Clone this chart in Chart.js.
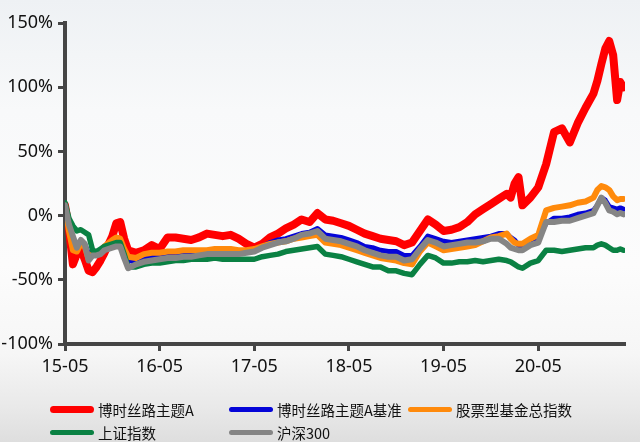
<!DOCTYPE html>
<html>
<head>
<meta charset="utf-8">
<script src="https://cdn.jsdelivr.net/npm/chart.js@4/dist/chart.umd.min.js"></script>
<style>
  html, body { margin: 0; padding: 0; }
  #wrap {
    position: relative;
    width: 640px;
    height: 442px;
    overflow: hidden;
    background: linear-gradient(180deg, #eef1f4 0%, #f8f9fa 25%, #fcfcfc 60%, #f6f6f6 80%, #e9e9e9 92%, #dedede 100%);
    font-family: "Noto Sans CJK SC", "Noto Sans", sans-serif;
  }
  #chart { position: absolute; left: 0; top: 0; }
  .leg { position: absolute; height: 20px; display: flex; align-items: center; font-size: 14.5px; color: #111; white-space: nowrap; }
  .leg i { display: inline-block; width: 44px; border-radius: 4px; margin-right: 4px; }
</style>
</head>
<body>
<div id="wrap">
  <canvas id="chart" width="640" height="442"></canvas>
  <div id="legend"></div>
</div>
<script>
// ── Data ────────────────────────────────────────────────
// months since 2015-05
const months = [0, 0.5, 1, 1.5, 2, 2.5, 3, 3.5, 4, 4.5, 5, 6, 6.5, 7, 7.5, 8, 9, 10, 11, 12,
  13, 14, 15, 16, 17, 18, 19, 20, 21, 22, 23, 24, 25, 26, 27, 28, 29, 30, 31, 32,
  33, 34, 35, 36, 37, 38, 39, 40, 41, 42, 43, 44, 45, 46, 47, 48, 49, 50, 51, 52,
  53, 54, 55, 56, 56.5, 57, 57.5, 58, 59, 60, 61, 62, 63, 64, 65, 66, 67, 67.5, 68, 68.5,
  69, 69.5, 70, 70.4, 70.8];

const tickLabels = ["15-05", "16-05", "17-05", "18-05", "19-05", "20-05"];

const fundA = [8, -10, -38, -30, -26, -34, -43, -44, -40, -35, -29, -16, -6, -5, -18, -27, -29, -27, -23, -26,
  -17, -17, -18, -19, -17, -14, -15, -16, -15, -18, -22, -25, -22, -17, -14, -10, -7, -3, -5, 2,
  -3, -4, -6, -8, -11, -14, -16, -18, -19, -20, -23, -21, -12, -3, -7, -12, -11, -9, -5, 1,
  5, 9, 13, 17, 14, 25, 30, 8, 14, 22, 40, 65, 68, 57, 72, 84, 95, 105, 118, 130,
  136, 125, 90, 104, 100];

const benchA = [8, -8, -17, -24, -20, -22, -30, -28, -29, -29, -27, -24, -22, -21, -26, -35, -36, -34, -32, -32,
  -31, -31, -30, -30, -29, -28, -28, -29, -28, -28, -27, -26, -24, -21, -19, -18, -16, -14, -13, -10,
  -15, -16, -17, -19, -21, -24, -25, -27, -28, -28, -31, -31, -24, -16, -18, -20, -21, -20, -19, -18,
  -17, -16, -14, -14, -17, -19, -23, -26, -20, -17, -6, -2, -2, -1, 1, 2, 4, 8, 14, 12,
  7, 6, 5, 6, 5];

const stockFund = [8, -12, -27, -28, -22, -24, -34, -30, -30, -28, -24, -19, -17, -18, -26, -32, -33, -30, -29, -29,
  -28, -28, -27, -27, -27, -27, -26, -26, -26, -27, -27, -26, -24, -22, -21, -20, -18, -17, -16, -15,
  -21, -22, -23, -25, -27, -29, -31, -33, -34, -35, -37, -38, -28, -21, -24, -27, -26, -25, -24, -23,
  -20, -17, -16, -14, -18, -21, -22, -22, -18, -15, 4, 6, 7, 8, 10, 11, 14, 20, 23, 22,
  20, 15, 12, 13, 13];

const shIndex = [10, -2, -8, -12, -11, -13, -15, -27, -28, -26, -24, -22, -21, -21, -30, -40, -40, -38, -37, -37,
  -36, -35, -35, -34, -34, -34, -33, -34, -34, -34, -34, -34, -32, -31, -30, -28, -27, -26, -25, -24,
  -30, -31, -32, -34, -36, -38, -40, -40, -43, -43, -45, -46, -38, -31, -33, -37, -37, -36, -36, -35,
  -36, -35, -34, -35, -36, -38, -40, -41, -37, -35, -27, -27, -28, -27, -26, -25, -25, -23, -22, -23,
  -25, -27, -27, -26, -27];

const hs300 = [8, -7, -16, -25, -19, -22, -35, -31, -31, -30, -27, -25, -24, -24, -33, -41, -38, -36, -35, -34,
  -33, -33, -32, -32, -31, -30, -30, -30, -30, -30, -29, -28, -25, -23, -21, -20, -18, -15, -14, -12,
  -18, -19, -20, -22, -24, -27, -29, -31, -32, -32, -35, -34, -26, -19, -21, -24, -23, -22, -21, -21,
  -20, -18, -18, -22, -25, -26, -27, -27, -23, -21, -5, -5, -4, -4, -2, 0, 2, 8, 14, 10,
  4, 3, 1, 2, 1];

const seriesNames = ["博时丝路主题A", "博时丝路主题A基准", "股票型基金总指数", "上证指数", "沪深300"];
const seriesData = [fundA, benchA, stockFund, shIndex, hs300];
const seriesColors = ["#ff0000", "#0505d8", "#ff8a0c", "#0a8143", "#858585"];
const seriesWidths = [8, 5, 6, 5.5, 6];
const seriesOrder = [4, 3, 2, 1, 0];

// ── Chart ───────────────────────────────────────────────

const AXIS = "#454545";

const datasets = seriesNames.map((name, i) => ({
  label: name,
  data: months.map((m, j) => ({ x: m, y: seriesData[i][j] })),
  borderColor: seriesColors[i],
  backgroundColor: seriesColors[i],
  borderWidth: seriesWidths[i],
  borderJoinStyle: "round",
  borderCapStyle: "round",
  pointRadius: 0,
  tension: 0,
  order: seriesOrder[i],
}));

new Chart(document.getElementById("chart"), {
  type: "line",
  data: { datasets },
  options: {
    responsive: false,
    animation: false,
    layout: { padding: { top: 23, right: 15, left: 0, bottom: 0 } },
    plugins: { legend: { display: false }, tooltip: { enabled: false } },
    scales: {
      x: {
        type: "linear",
        min: 0,
        max: 71,
        afterFit: (s) => { s.height = 98; },
        afterBuildTicks: (s) => { s.ticks = s.ticks.filter((t) => t.value % 12 === 0); },
        ticks: {
          stepSize: 12,
          color: "#111",
          padding: 5,
          font: { size: 18, family: "'Noto Sans', sans-serif" },
          callback: (v) => tickLabels[v / 12],
        },
        grid: { drawOnChartArea: false, drawTicks: true, tickLength: 7, tickWidth: 3, tickColor: AXIS },
        border: { color: AXIS, width: 4 },
      },
      y: {
        min: -100,
        max: 150,
        afterFit: (s) => { s.width = 65; },
        ticks: {
          stepSize: 50,
          color: "#111",
          padding: 5,
          font: { size: 18, family: "'Noto Sans', sans-serif" },
          callback: (v) => v + "%",
        },
        grid: { drawOnChartArea: false, drawTicks: true, tickLength: 7, tickWidth: 3, tickColor: AXIS },
        border: { color: AXIS, width: 4 },
      },
    },
  },
});

// ── Legend (grid of 3 columns) ──────────────────────────

const legendCols = [50, 229, 408];
const legendRows = [399, 422];
document.getElementById("legend").innerHTML = seriesNames.map((name, i) => {
  const left = legendCols[i % 3];
  const top = legendRows[Math.floor(i / 3)];
  const h = i === 0 ? 7 : 5;
  return `<div class="leg" style="left:${left}px;top:${top}px">
    <i style="height:${h}px;background:${seriesColors[i]}"></i>${name}</div>`;
}).join("");
</script>
</body>
</html>
